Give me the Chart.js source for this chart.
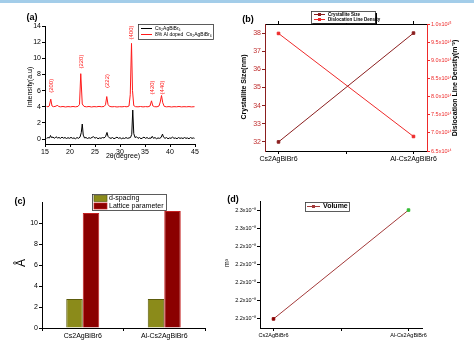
<!DOCTYPE html>
<html><head><meta charset="utf-8">
<script src="https://cdn.jsdelivr.net/npm/chart.js@4"></script>
<style>
html,body{margin:0;padding:0;background:#fff;}
#wrap{position:relative;width:474px;height:351px;overflow:hidden;background:#fff;}
#wrap canvas{position:absolute;left:0;top:0;}
#strip{position:absolute;left:0;top:0;width:474px;height:3px;background:#a3cde9;}
</style></head><body>
<div id="wrap">
<canvas id="ca" width="474" height="351"></canvas>
<canvas id="cb" width="474" height="351"></canvas>
<canvas id="cc" width="474" height="351"></canvas>
<canvas id="cd" width="474" height="351"></canvas>
<div id="strip"></div>
</div>
<script>
// ---------- DATA ----------
// (a) XRD patterns
const pureX = [15.3,15.6,15.9,16.1,16.3,16.6,16.9,17.2,17.5,17.8,18.1,18.4,18.7,19.0,19.3,19.6,19.9,20.2,20.5,20.8,21.1,21.4,21.7,22.0,22.25,22.45,22.65,22.9,23.2,23.5,23.8,24.1,24.4,24.7,25.0,25.3,25.6,25.9,26.2,26.5,26.8,27.1,27.4,27.6,27.9,28.2,28.5,28.8,29.1,29.4,29.7,30.0,30.3,30.6,30.9,31.2,31.5,31.8,32.1,32.35,32.55,32.75,33.0,33.3,33.6,33.9,34.2,34.5,34.8,35.1,35.4,35.7,36.0,36.2,36.45,36.7,37.0,37.3,37.6,37.9,38.2,38.5,38.7,39.0,39.3,39.6,39.9,40.2,40.5,40.8,41.1,41.4,41.7,42.0,42.3,42.6,42.9,43.2,43.5,43.8,44.1,44.4,44.7,44.9];
const pureY = [0.1,0.2,0.15,0.45,0.2,0.25,0.1,0.3,0.15,0.2,0.1,0.25,0.12,0.2,0.08,0.18,0.1,0.22,0.1,0.15,0.05,0.2,0.1,0.25,0.8,1.87,0.5,0.15,0.2,0.08,0.18,0.1,0.22,0.3,0.12,0.2,0.05,0.15,0.1,0.2,0.15,0.3,0.83,0.35,0.15,0.1,0.2,0.05,0.15,0.25,0.1,0.18,0.05,0.15,0.08,0.2,0.1,0.15,0.2,0.6,3.6,0.7,0.2,0.3,0.1,0.2,0.05,0.15,0.25,0.1,0.2,0.08,0.15,0.1,0.35,0.1,0.2,0.05,0.15,0.1,0.2,0.62,0.25,0.1,0.2,0.05,0.15,0.1,0.25,0.1,0.15,0.05,0.2,0.1,0.15,0.08,0.2,0.1,0.15,0.05,0.2,0.1,0.15,0.1];
const dopedX = [15.3,15.6,15.85,16.15,16.4,16.7,17.0,17.3,17.45,17.7,18.1,18.6,19.1,19.6,20.1,20.6,21.1,21.6,21.9,22.15,22.45,22.8,23.3,23.8,24.3,24.8,25.3,25.8,26.3,26.8,27.1,27.35,27.6,27.9,28.4,28.9,29.4,29.9,30.4,30.9,31.4,31.8,32.05,32.3,32.5,32.75,33.1,33.6,34.1,34.6,35.1,35.6,36.0,36.3,36.55,36.9,37.4,37.8,38.05,38.3,38.55,38.85,39.3,39.8,40.3,40.8,41.3,41.8,42.3,42.8,43.3,43.8,44.3,44.9];
const dopedY = [4.05,4.0,4.1,4.95,4.1,4.02,4.05,4.1,4.22,4.05,4.0,4.04,3.98,4.03,4.0,4.04,4.0,4.05,4.3,8.1,4.35,4.05,4.0,4.04,3.98,4.03,4.0,4.05,4.01,4.04,4.25,5.27,4.3,4.05,4.0,4.03,3.98,4.02,4.0,4.04,4.0,4.1,5.5,11.85,6.0,4.15,4.02,4.0,4.04,3.99,4.03,4.0,4.1,4.74,4.12,4.02,4.0,4.1,4.6,5.4,4.5,4.05,4.0,4.03,3.98,4.02,4.0,4.04,3.99,4.02,4.0,4.03,3.99,4.02];
const aXTicks = [15,20,25,30,35,40,45];
const aYTicks = [0,2,4,6,8,10,12,14];
const peakLabels = ['(200)','(220)','(222)','(400)','(420)','(440)'];
const peakPos = [16.2,22.2,27.4,32.35,36.4,38.4];
const peakLabelY = [6.6,9.6,7.2,13.2,6.4,6.4];

// (b) crystallite size / dislocation density
const samples = ['Cs2AgBiBr6','Al-Cs2AgBiBr6'];
const crystalliteSize = [32,38];            // nm
const dislocationDensity = [9.74,6.9];      // x10^14 m^-2
const bLeftTicks = [32,33,34,35,36,37,38];
const bRightTicks = [6.5,7.0,7.5,8.0,8.5,9.0,9.5,10.0];
const sampleTicks = [0,0.5,1];

// (c) d-spacing / lattice parameter
const dSpacing = [2.76,2.76];
const latticeParam = [10.95,11.14];
const cYTicks = [0,2,4,6,8,10];

// (d) volume
const volume = [2.20,2.26];
const dYTicks = [2.20,2.21,2.22,2.23,2.24,2.25,2.26];

// ---------- HELPERS ----------
Chart.defaults.font.family = '"Liberation Sans", Arial, sans-serif';
Chart.defaults.color = '#000';
const FF = '"Liberation Sans", Arial, sans-serif';

function txt(ctx, s, x, y, o) {
  o = o || {};
  ctx.save();
  ctx.font = o.font || ('7px ' + FF);
  ctx.fillStyle = o.color || '#000';
  ctx.textAlign = o.align || 'center';
  ctx.textBaseline = o.baseline || 'middle';
  ctx.translate(x, y);
  if (o.rot) ctx.rotate(o.rot);
  ctx.fillText(s, 0, 0);
  ctx.restore();
}
function box(ctx, x, y, w, h, shadow) {
  ctx.save();
  ctx.fillStyle = '#fff';
  ctx.fillRect(x, y, w, h);
  ctx.strokeStyle = '#333';
  ctx.lineWidth = 0.8;
  ctx.strokeRect(x + 0.5, y + 0.5, w, h);
  if (shadow) {
    ctx.fillStyle = '#000';
    ctx.fillRect(x + w + 0.5, y + 2, 1.5, h);
    ctx.fillRect(x + 2, y + h + 0.5, w, 1.5);
  }
  ctx.restore();
}
function lineSample(ctx, x1, x2, y, color, marker) {
  ctx.save();
  ctx.strokeStyle = color; ctx.lineWidth = 1;
  ctx.beginPath(); ctx.moveTo(x1, y); ctx.lineTo(x2, y); ctx.stroke();
  if (marker) { ctx.fillStyle = color; ctx.fillRect((x1 + x2) / 2 - 1.5, y - 1.5, 3, 3); }
  ctx.restore();
}
function fixedTicks(arr) { return (s) => { s.ticks = arr.map(v => ({ value: v })); }; }
function axisBase(extra) {
  return Object.assign({
    grid: { display: true, drawOnChartArea: false, drawTicks: true, tickLength: 3, color: '#000', lineWidth: 1 },
    border: { display: true, color: '#000', width: 1 },
    ticks: { font: { size: 7 }, color: '#000', padding: 1, autoSkip: false, maxRotation: 0 }
  }, extra);
}
const common = { responsive: false, animation: false, events: [], plugins: { legend: { display: false }, tooltip: { enabled: false } } };

// ---------- (a) ----------
new Chart(document.getElementById('ca'), {
  type: 'line',
  data: { datasets: [
    { data: pureX.map((x, i) => ({ x, y: pureY[i] })), borderColor: '#000', borderWidth: 1, pointRadius: 0, tension: 0 },
    { data: dopedX.map((x, i) => ({ x, y: dopedY[i] })), borderColor: '#ff1a1a', borderWidth: 1, pointRadius: 0, tension: 0 }
  ]},
  options: Object.assign({}, common, {
    layout: { padding: { left: 25, top: 26, right: 279, bottom: 187 } },
    scales: {
      x: axisBase({ type: 'linear', min: 15, max: 45, afterBuildTicks: fixedTicks(aXTicks), afterFit: s => { s.height = 20; } }),
      y: axisBase({ type: 'linear', min: -0.6, max: 14, afterBuildTicks: fixedTicks(aYTicks), afterFit: s => { s.width = 20; } })
    }
  }),
  plugins: [{ id: 'ovA', afterDraw(chart) {
    const ctx = chart.ctx, sx = chart.scales.x, sy = chart.scales.y;
    peakLabels.forEach((l, i) => txt(ctx, l, sx.getPixelForValue(peakPos[i]), sy.getPixelForValue(peakLabelY[i]), { color: '#ff1a1a', rot: -Math.PI / 2, font: '6px ' + FF }));
    txt(ctx, '(a)', 32, 18, { font: 'bold 9px ' + FF });
    txt(ctx, 'Intensity(a.u)', 30, 87, { rot: -Math.PI / 2, font: '7px ' + FF });
    txt(ctx, '2θ(degree)', 123, 156, { font: '7px ' + FF });
    box(ctx, 138, 24, 75, 15, false);
    lineSample(ctx, 141, 152, 28.5, '#000');
    txt(ctx, 'Cs₂AgBiBr₆', 155, 28.5, { align: 'left', font: '5px ' + FF });
    lineSample(ctx, 141, 152, 34.5, '#ff1a1a');
    txt(ctx, '8% Al doped  Cs₂AgBiBr₆', 155, 34.5, { align: 'left', font: '5px ' + FF });
  }}]
});

// ---------- (b) ----------
const sampleLabel = v => (v === 0 ? samples[0] : v === 1 ? samples[1] : '');
new Chart(document.getElementById('cb'), {
  type: 'line',
  data: { datasets: [
    { data: sampleTicks.filter(v => v !== 0.5).map((x, i) => ({ x, y: crystalliteSize[i] })), yAxisID: 'yL', borderColor: '#8b1f1f', backgroundColor: '#8b1f1f', borderWidth: 1, pointStyle: 'rect', pointRadius: 1.8, tension: 0 },
    { data: sampleTicks.filter(v => v !== 0.5).map((x, i) => ({ x, y: dislocationDensity[i] })), yAxisID: 'yR', borderColor: '#ee2a2a', backgroundColor: '#ee2a2a', borderWidth: 1, pointStyle: 'rect', pointRadius: 1.8, tension: 0 }
  ]},
  options: Object.assign({}, common, {
    layout: { padding: { left: 240, top: 20, right: 7, bottom: 185 } },
    scales: {
      x: axisBase({ type: 'linear', min: -0.1, max: 1.1, afterBuildTicks: fixedTicks(sampleTicks), afterFit: s => { s.height = 15; },
        ticks: { font: { size: 7 }, color: '#000', padding: 1, autoSkip: false, maxRotation: 0, callback: sampleLabel } }),
      x2: axisBase({ type: 'linear', position: 'top', min: -0.1, max: 1.1, afterBuildTicks: fixedTicks(sampleTicks), afterFit: s => { s.height = 4; },
        ticks: { display: false } }),
      yL: axisBase({ type: 'linear', position: 'left', min: 31.5, max: 38.5, afterBuildTicks: fixedTicks(bLeftTicks), afterFit: s => { s.width = 25; },
        border: { display: true, color: '#8b1f1f', width: 1 },
        grid: { display: true, drawOnChartArea: false, tickLength: 3, color: '#8b1f1f' },
        ticks: { font: { size: 7 }, color: '#c03030', padding: 1, autoSkip: false } }),
      yR: axisBase({ type: 'linear', position: 'right', min: 6.5, max: 10.0, afterBuildTicks: fixedTicks(bRightTicks), afterFit: s => { s.width = 40; },
        border: { display: true, color: '#ee2a2a', width: 1 },
        grid: { display: true, drawOnChartArea: false, tickLength: 3, color: '#ee2a2a' },
        ticks: { font: { size: 5.5 }, color: '#ee2a2a', padding: 1, autoSkip: false,
          callback: v => (v >= 10 ? '1.0x10¹⁵' : v.toFixed(1) + 'x10¹⁴') } })
    }
  }),
  plugins: [{ id: 'ovB', afterDraw(chart) {
    const ctx = chart.ctx;
    txt(ctx, '(b)', 248, 20, { font: 'bold 9px ' + FF });
    txt(ctx, 'Crystallite Size(nm)', 244, 87, { rot: -Math.PI / 2, font: 'bold 7px ' + FF });
    txt(ctx, 'Dislocation Line Density(m⁻²)', 455, 88, { rot: -Math.PI / 2, font: 'bold 7px ' + FF });
    box(ctx, 311, 11, 64, 12, true);
    lineSample(ctx, 314, 325, 14.5, '#8b1f1f', true);
    txt(ctx, 'Crystallite Size', 328, 14.5, { align: 'left', font: 'bold 4.5px ' + FF });
    lineSample(ctx, 314, 325, 19.5, '#ee2a2a', true);
    txt(ctx, 'Dislocation Line Density', 328, 19.5, { align: 'left', font: 'bold 4.5px ' + FF });
  }}]
});

// ---------- (c) ----------
new Chart(document.getElementById('cc'), {
  type: 'bar',
  data: { labels: samples, datasets: [
    { label: 'd-spacing', data: dSpacing, backgroundColor: '#8b8b1a', borderColor: '#5c5c0c', borderWidth: 1, categoryPercentage: 0.405, barPercentage: 1 },
    { label: 'Lattice parameter', data: latticeParam, backgroundColor: '#8b0000', borderColor: '#c42020', borderWidth: 1, categoryPercentage: 0.405, barPercentage: 1 }
  ]},
  options: Object.assign({}, common, {
    layout: { padding: { left: 22, top: 202, right: 269, bottom: 8 } },
    scales: {
      x: axisBase({ type: 'category', afterFit: s => { s.height = 15; },
        grid: { display: true, drawOnChartArea: false, tickLength: 3, color: '#000', offset: true },
        ticks: { font: { size: 7 }, color: '#000', padding: 1, autoSkip: false, maxRotation: 0 } }),
      y: axisBase({ type: 'linear', min: 0, max: 12, afterBuildTicks: fixedTicks(cYTicks), afterFit: s => { s.width = 20; } })
    }
  }),
  plugins: [{ id: 'ovC', afterDraw(chart) {
    const ctx = chart.ctx;
    txt(ctx, '(c)', 20, 202, { font: 'bold 9px ' + FF });
    txt(ctx, 'Å', 22, 263, { rot: -Math.PI / 2, font: '12px ' + FF });
    box(ctx, 92, 194, 74, 16, false);
    ctx.save();
    ctx.fillStyle = '#8b8b1a'; ctx.fillRect(94, 195.5, 13, 6); ctx.strokeStyle = '#5c5c0c'; ctx.lineWidth = 0.7; ctx.strokeRect(94, 195.5, 13, 6);
    ctx.fillStyle = '#8b0000'; ctx.fillRect(94, 203, 13, 6); ctx.strokeStyle = '#c42020'; ctx.strokeRect(94, 203, 13, 6);
    ctx.restore();
    txt(ctx, 'd-spacing', 109, 198.5, { align: 'left', font: '7px ' + FF });
    txt(ctx, 'Lattice parameter', 109, 206, { align: 'left', font: '7px ' + FF });
  }}]
});

// ---------- (d) ----------
new Chart(document.getElementById('cd'), {
  type: 'line',
  data: { datasets: [
    { data: sampleTicks.filter(v => v !== 0.5).map((x, i) => ({ x, y: volume[i] })), borderColor: '#a33a3a', borderWidth: 1,
      pointStyle: 'rect', pointRadius: 1.8, pointBackgroundColor: ['#8b0000', '#33bb33'], pointBorderColor: ['#8b0000', '#33bb33'], tension: 0 }
  ]},
  options: Object.assign({}, common, {
    layout: { padding: { left: 235, top: 201, right: 52, bottom: 9 } },
    scales: {
      x: axisBase({ type: 'linear', min: -0.1, max: 1.1, afterBuildTicks: fixedTicks(sampleTicks), afterFit: s => { s.height = 14; },
        ticks: { font: { size: 5.5 }, color: '#000', padding: 1, autoSkip: false, maxRotation: 0, callback: sampleLabel } }),
      y: axisBase({ type: 'linear', min: 2.195, max: 2.265, afterBuildTicks: fixedTicks(dYTicks), afterFit: s => { s.width = 25; },
        ticks: { font: { size: 5.5 }, color: '#000', padding: 1, autoSkip: false, callback: v => v.toFixed(1) + 'x10⁻⁸' } })
    }
  }),
  plugins: [{ id: 'ovD', afterDraw(chart) {
    const ctx = chart.ctx;
    txt(ctx, '(d)', 233, 200, { font: 'bold 9px ' + FF });
    txt(ctx, 'm³', 227, 263, { rot: -Math.PI / 2, font: '7px ' + FF });
    box(ctx, 305, 202, 44, 9, false);
    lineSample(ctx, 307, 320, 206.5, '#a33a3a', true);
    txt(ctx, 'Volume', 323, 206.5, { align: 'left', font: 'bold 7px ' + FF });
  }}]
});
</script>
</body></html>
